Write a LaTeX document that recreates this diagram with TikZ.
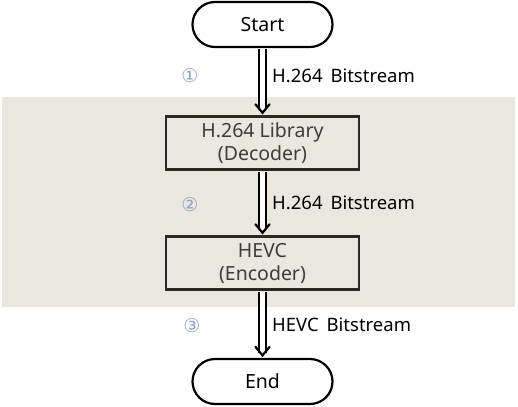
\documentclass[tikz,border=0pt]{standalone}
\usepackage{fontspec}
\setmainfont{Noto Sans}
\newfontfamily\symfont{DejaVu Sans}
\usetikzlibrary{shapes.misc}
\definecolor{band}{RGB}{234,231,222}
\definecolor{numcol}{RGB}{140,162,198}
\definecolor{boxtext}{RGB}{60,60,60}
\definecolor{edge}{RGB}{40,40,36}
\begin{document}
\begin{tikzpicture}[x=1pt,y=-1pt,
  term/.style={rounded rectangle, draw=black, line width=2.2pt, minimum width=140pt, minimum height=45pt, inner sep=0pt, font=\fontsize{19.5}{22}\selectfont, fill=white},
  procbox/.style={rectangle, draw=edge, line width=2.4pt, minimum width=193pt, minimum height=53pt, inner sep=0pt, align=center, text=boxtext, font=\fontsize{19.5}{23}\selectfont},
  lbl/.style={anchor=west, inner sep=0pt, font=\fontsize{18.5}{22}\selectfont},
  num/.style={inner sep=0pt, text=numcol, font=\symfont\fontsize{19}{19}\selectfont},
  dbl/.style={draw=black, double=white, double distance=4.2pt, line width=2pt},
  tip/.style={draw=black, line width=2.2pt, line cap=round, line join=miter}]
\useasboundingbox (0,0) rectangle (518,406);
\fill[band] (2,97) rectangle (515,307);

\node[term] (start) at (262.5,24.5) {Start};
\node[procbox] (lib) at (262.5,143) {H.264 Library\\(Decoder)};
\node[procbox] (hevc) at (262.5,263) {HEVC\\(Encoder)};
\node[term] (end) at (262.5,381.5) {End};

\foreach \a/\b in {start/lib, lib/hevc, hevc/end}{
  \draw[dbl] ([yshift=-1.2pt]\a.south) -- ([yshift=5pt]\b.north);
  \draw[tip] ([xshift=-7pt,yshift=11pt]\b.north) -- ([yshift=2.5pt]\b.north) -- ([xshift=7pt,yshift=11pt]\b.north);
}

\node[lbl] (l1) at (272,76) {H.264\, Bitstream};
\node[lbl] (l2) at (272,203) {H.264\, Bitstream};
\node[lbl] (l3) at (272,325) {HEVC\, Bitstream};
\node[num] (n1) at (190,76) {①};
\node[num] (n2) at (190,205) {②};
\node[num] (n3) at (192,326) {③};
\end{tikzpicture}
\end{document}
